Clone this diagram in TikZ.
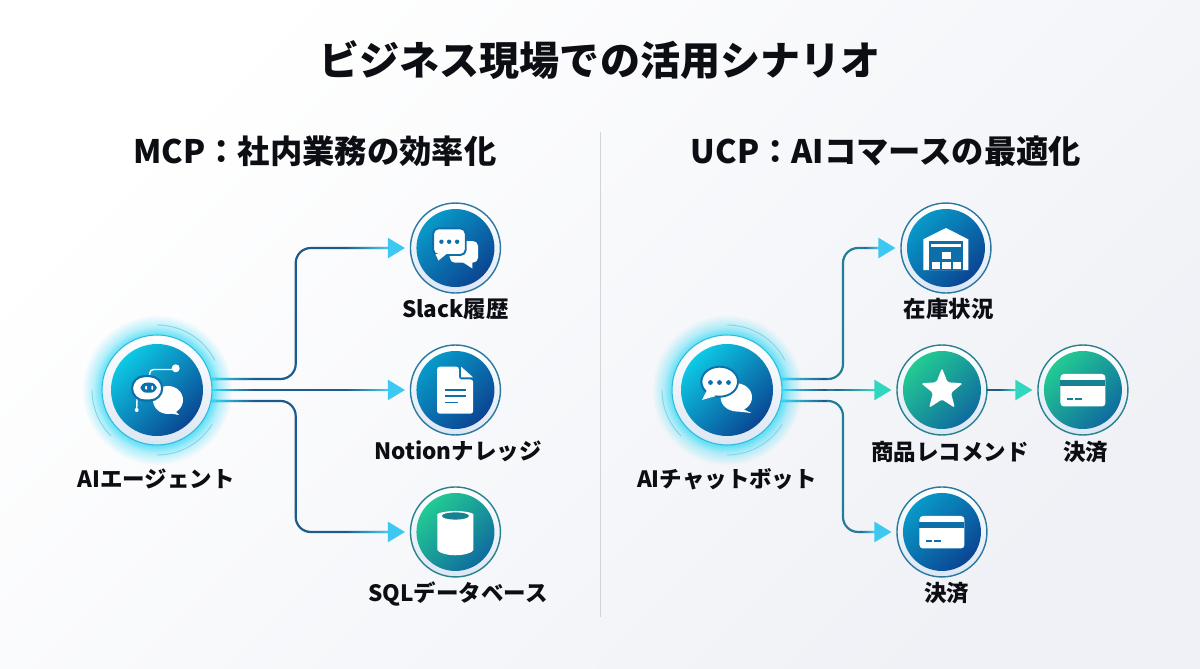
\documentclass[tikz,border=0pt]{standalone}
\usepackage{fontspec}
\setmainfont{Noto Sans CJK JP}
\usepackage{tikz}
\usetikzlibrary{positioning,arrows.meta,fadings}
\definecolor{inkblack}{RGB}{12,14,20}
\definecolor{bgedge}{RGB}{239,241,246}
\definecolor{rimlight}{RGB}{220,230,244}
\definecolor{rimline}{RGB}{42,120,160}
\definecolor{rimgreen}{RGB}{40,130,140}
\definecolor{hubcyan}{RGB}{12,214,236}
\definecolor{hubnavy}{RGB}{10,58,140}
\definecolor{toolcyan}{RGB}{8,160,205}
\definecolor{toolnavy}{RGB}{12,62,142}
\definecolor{toolgreen}{RGB}{36,210,146}
\definecolor{toolteal}{RGB}{14,100,160}
\definecolor{iconblue}{RGB}{14,110,170}
\definecolor{iconteal}{RGB}{22,130,145}
\definecolor{glowcyan}{RGB}{46,216,245}
\definecolor{wirenavy}{RGB}{28,92,140}
\definecolor{wireteal}{RGB}{34,125,150}
\definecolor{tipcyan}{RGB}{60,200,240}
\definecolor{tipgreen}{RGB}{48,214,190}
\definecolor{halocyan}{RGB}{130,212,228}
\definecolor{divline}{RGB}{208,213,220}
\pgfdeclarelayer{background}
\pgfsetlayers{background,main}
\pgfdeclareradialshading{glowstops}{\pgfpointorigin}{%
  color(0bp)=(pgftransparent!20); color(18bp)=(pgftransparent!20);
  color(21bp)=(pgftransparent!65); color(25bp)=(pgftransparent!100);
  color(50bp)=(pgftransparent!100)}
\pgfdeclarefading{glowfade}{\pgfuseshading{glowstops}}
\newcommand\cardicon[1]{
  \fill[white,rounded corners=2pt] (-22.5,16) rectangle (22.5,-16.5);
  \fill[#1] (-22.5,10) rectangle (22.5,4.3);
  \draw[#1,line width=1.1pt] (-16,-9.3) -- (-9.5,-9.3) (-7.5,-9.3) -- (-1,-9.3);
}

\begin{document}
\begin{tikzpicture}[x=0.02cm,y=0.02cm,node distance=1.04cm,outer sep=0pt,
hubnode/.style={
  circle,
  inner sep=0pt,
  minimum size=2.2cm,
  draw=glowcyan!70!rimline,
  line width=0.6pt,
  top color=white,
  bottom color=rimlight,
  path picture={\shade[top color=hubcyan,bottom color=hubnavy,shading angle=45]
    (path picture bounding box.center) circle (0.92cm);}},
toolnode/.style n args={3}{
  circle,
  inner sep=0pt,
  minimum size=1.8cm,
  draw=#3,
  line width=0.8pt,
  top color=white,
  bottom color=rimlight,
  path picture={\shade[top color=#1,bottom color=#2,shading angle=45]
    (path picture bounding box.center) circle (0.78cm);}},
bluetool/.style={toolnode={toolcyan}{toolnavy}{rimline}},
greentool/.style={toolnode={toolgreen}{toolteal}{rimgreen}},
namelabel/.style={
  font={\fontsize{12.8}{15}\selectfont\bfseries},
  text=inkblack,
  inner sep=0pt,
  text height=10pt,
  text depth=3pt},
headlabel/.style={
  font={\fontsize{18.4}{22}\selectfont\bfseries},
  text=inkblack,
  inner sep=0pt},
wire/.style 2 args={
  draw=#1,
  line width=0.044cm,
  rounded corners=0.3cm,
  shorten >=0.11cm,
  -{Triangle[length=0.34cm,width=0.4cm,color=#2]}},
halo/.style={draw=halocyan,line width=0.5pt},
]
% hubs and targets, left
\node[hubnode] (AGENT) at (157,279) {};
\node[bluetool,right=3.97cm of AGENT] (NOTION) {};
\node[bluetool,above=of NOTION] (SLACK) {};
\node[greentool,below=of NOTION] (SQL) {};
% hubs and targets, right
\node[hubnode] (CHAT) at (727,279) {};
\node[greentool,right=2.3cm of CHAT] (STAR) {};
\node[bluetool,above=of STAR,xshift=0.08cm] (STOCK) {};
\node[bluetool,below=of STAR] (PAY) {};
\node[greentool,right=1.02cm of STAR] (CARD) {};

% texts
\node[font={\fontsize{22.8}{27}\selectfont\bfseries},text=inkblack,inner sep=0pt] (TITLE) at (600,609) {ビジネス現場での活用シナリオ};
\node[headlabel] (MCPHEAD) at (315,518) {MCP：社内業務の効率化};
\node[headlabel] (UCPHEAD) at (886,518) {UCP：AIコマースの最適化};
\node[namelabel,below=0.5cm of AGENT,xshift=-0.02cm] (AGENTname) {AIエージェント};
\node[namelabel,below=0.13cm of SLACK] (SLACKname) {Slack履歴};
\node[namelabel,below=0.13cm of NOTION,xshift=0.05cm] (NOTIONname) {Notionナレッジ};
\node[namelabel,below=0.13cm of SQL,xshift=0.05cm] (SQLname) {SQLデータベース};
\node[namelabel,below=0.5cm of CHAT] (CHATname) {AIチャットボット};
\node[namelabel,below=0.13cm of STOCK,xshift=0.06cm] (STOCKname) {在庫状況};
\node[namelabel,below=0.15cm of STAR,xshift=0.16cm] (STARname) {商品レコメンド};
\node[namelabel,below=0.15cm of CARD,xshift=0.06cm] (CARDname) {決済};
\node[namelabel,below=0.13cm of PAY,xshift=0.1cm] (PAYname) {決済};

\coordinate (DIVtop) at (600,537);
\coordinate (DIVbot) at (600,52);
\draw[divline,line width=0.5pt] (DIVtop) -- (DIVbot);

% wires
\coordinate (AGENTup) at ([yshift=0.22cm]AGENT.east);
\coordinate (AGENTdown) at ([yshift=-0.22cm]AGENT.east);
\coordinate (CHATup) at ([yshift=0.22cm]CHAT.east);
\coordinate (CHATdown) at ([yshift=-0.22cm]CHAT.east);
\coordinate (BUSL) at (295.7,279);
\coordinate (BUSR) at (843,279);
\draw[wire={wirenavy}{tipcyan}] (AGENTup) -- (BUSL |- AGENTup) -- (BUSL |- SLACK) -- (SLACK);
\draw[wire={wirenavy}{tipcyan}] (AGENT) -- (NOTION);
\draw[wire={wirenavy}{tipcyan}] (AGENTdown) -- (BUSL |- AGENTdown) -- (BUSL |- SQL) -- (SQL);
\draw[wire={wireteal}{tipcyan}] (CHATup) -- (BUSR |- CHATup) -- (BUSR |- STOCK) -- (STOCK);
\draw[wire={wireteal}{tipgreen}] (CHAT) -- (STAR);
\draw[wire={wireteal}{tipcyan}] (CHATdown) -- (BUSR |- CHATdown) -- (BUSR |- PAY) -- (PAY);
\draw[wire={wirenavy}{tipgreen}] (STAR) -- (CARD);

% cyan ends of the wires
\foreach \from in {AGENTup,AGENT.east,AGENTdown,CHATup,CHAT.east,CHATdown}
  \foreach \step in {0,...,9}{
    \pgfmathtruncatemacro\pct{\step*11}
    \draw[wirenavy!\pct!glowcyan,line width=0.044cm] ([xshift=\step*0.09cm]\from) -- ([xshift=\step*0.09cm+0.1cm]\from);
  }
\foreach \to/\len/\tipc in {SLACK/0.08/tipcyan,NOTION/0.08/tipcyan,SQL/0.08/tipcyan,STOCK/0.03/tipcyan,STAR/0.08/tipgreen,PAY/0.03/tipcyan,CARD/0.03/tipgreen}
  \foreach \step in {1,...,10}{
    \pgfmathtruncatemacro\pct{\step*10}
    \draw[\tipc!\pct!wirenavy,line width=0.044cm] ([xshift=-0.44cm-10*\len cm+\step*\len cm-\len cm]\to.west) -- ([xshift=-0.44cm-10*\len cm+\step*\len cm+0.01cm]\to.west);
  }

% icons
\begin{scope}[shift={(AGENT)}]
\fill[white] (11,-10) ellipse (15 and 14);
\fill[white] (15,-18) -- (22,-25) -- (5,-22) -- cycle;
\fill[white] (18.7,21.7) circle (4);
\draw[white,line width=0.8pt,rounded corners=2pt] (-7.5,13) -- (-7,20.5) -- (18,20.5);
\draw[white,line width=0.8pt] (-20,-9) -- (-20.3,-20);
\fill[white] (-20.3,-20) circle (2);
\draw[iconblue,fill=white,line width=1.2pt,rounded corners=7pt] (-25,13.8) rectangle (5.2,-10.5);
\fill[iconblue,rounded corners=3.5pt] (-16.5,7.3) rectangle (-0.3,-2.7);
\fill[white,rounded corners=0.5pt] (-11.8,4.3) rectangle (-10,0.2);
\fill[white,rounded corners=0.5pt] (-5.6,4.3) rectangle (-3.8,0.2);
\end{scope}
\begin{scope}[shift={(CHAT)}]
\fill[white] (9.3,-7.3) ellipse (15.7 and 14);
\fill[white] (14,-18) -- (24.3,-23) -- (6,-21) -- cycle;
\draw[iconblue,fill=white,line width=1.1pt] (-7.3,8.3) ellipse (18.3 and 15);
\fill[white] (-20,0) -- (-25,-10) -- (-11,-6) -- cycle;
\foreach \dotx in {-16.5,-7.5,1.5}
  \fill[iconblue] (\dotx,7.5) circle (2.4);
\end{scope}
\begin{scope}[shift={(SLACK)}]
\fill[white,rounded corners=3pt] (-5.7,7) rectangle (22.7,-14.7);
\fill[white] (7,-14) -- (17,-20.5) -- (17,-14) -- cycle;
\draw[iconblue,fill=white,line width=1.1pt,rounded corners=3pt] (-22.3,19.7) rectangle (10.3,-7);
\fill[white] (-20,-6) -- (-17,-12.5) -- (-9,-6) -- cycle;
\foreach \dotx in {-14,-6.3,1.7}
  \fill[iconblue] (\dotx,6.3) circle (2.2);
\end{scope}
\begin{scope}[shift={(NOTION)}]
\fill[white,rounded corners=1.5pt] (-18.3,23.3) -- (3.5,23.3) -- (3.5,10.5) -- (17.7,10.5) -- (17.7,-23.7) -- (-18.3,-23.7) -- cycle;
\fill[white] (5.7,23.3) -- (17.7,12.6) -- (5.7,12.6) -- cycle;
\draw[iconblue,line width=1pt] (-10.7,0) -- (10.3,0) (-10.7,-6) -- (10.3,-6) (-10.7,-12.5) -- (2.6,-12.5);
\end{scope}
\begin{scope}[shift={(SQL)}]
\fill[white,rounded corners=1pt] (-18,16) -- (-18,-16) arc (180:360:18 and 7.3) -- (18,16) arc (0:180:18 and 5) -- cycle;
\fill[iconteal] (0,16) ellipse (13.5 and 3.6);
\end{scope}
\begin{scope}[shift={(STOCK)}]
\fill[white] (-22.7,-22) -- (-22.7,8.7) -- (0,20) -- (22.3,8.7) -- (22.3,-22) -- cycle;
\fill[iconblue] (-17,7) rectangle (16.7,-22);
\fill[white] (-15,3.7) rectangle (15,0.7);
\fill[white] (-3.7,-4) rectangle (5,-11.3);
\fill[white] (-14.3,-14) rectangle (-6,-21);
\fill[white] (-3.7,-14) rectangle (5,-21);
\fill[white] (7.3,-14) rectangle (15,-21);
\end{scope}
\begin{scope}[shift={(STAR)}]
\fill[white,rounded corners=1pt] (90:22) -- (126:9.5) -- (162:22) -- (198:9.5) -- (234:22) -- (270:9.5) -- (306:22) -- (342:9.5) -- (18:22) -- (54:9.5) -- cycle;
\end{scope}
\begin{scope}[shift={(CARD)}]
\cardicon{iconteal}
\end{scope}
\begin{scope}[shift={(PAY)}]
\cardicon{iconblue}
\end{scope}

\begin{pgfonlayer}{background}
\shade[top color=white,bottom color=bgedge,shading angle=45] (0,0) rectangle (1200,669);
\foreach \hub in {AGENT,CHAT}{
  \fill[glowcyan,path fading=glowfade] (\hub) circle (1.5cm);
  \foreach \a/\b in {90/27,180/225,-90/-32}
    \draw[halo] (\hub.center) ++(\a:65) arc (\a:\b:65);
}
\end{pgfonlayer}
\end{tikzpicture}
\end{document}
